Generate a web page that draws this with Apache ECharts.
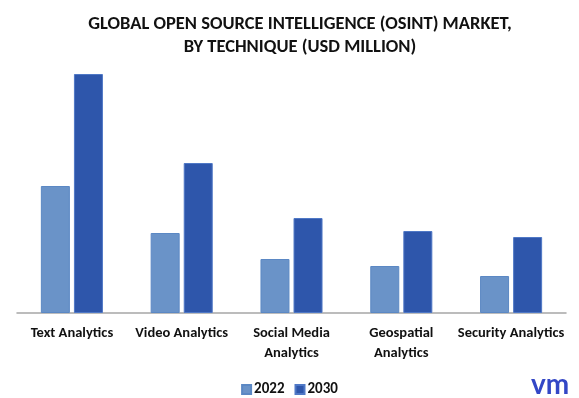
<!DOCTYPE html>
<html>
<head>
<meta charset="utf-8">
<script src="https://cdn.jsdelivr.net/npm/echarts@6/dist/echarts.min.js"></script>
<style>
  html, body { margin: 0; padding: 0; background: #fff; }
  #chart { width: 579px; height: 398px; }
</style>
</head>
<body>
<div id="chart"></div>
<script>
const categories = ['Text Analytics', 'Video Analytics', 'Social Media\nAnalytics', 'Geospatial\nAnalytics', 'Security Analytics']
const values2022 = [127, 80, 54, 47, 37]
const values2030 = [239, 150, 95, 82, 76]
const seriesNames = ['2022', '2030']

const fontFamily = 'Calibri, Carlito, Lato, sans-serif'
const textColor = '#111111'

const chart = echarts.init(document.getElementById('chart'))

chart.setOption({
  animation: false,
  color: ['#6a93c8', '#2e56ab'],
  title: {
    text: 'GLOBAL OPEN SOURCE INTELLIGENCE (OSINT) MARKET,\nBY TECHNIQUE (USD MILLION)',
    left: 295,
    textAlign: 'center',
    top: 8,
    textStyle: {
      fontFamily,
      fontSize: 18.5,
      fontWeight: 'bold',
      lineHeight: 23,
      color: textColor
    }
  },
  legend: {
    data: seriesNames,
    left: 'center',
    top: 377,
    itemWidth: 9,
    itemHeight: 9,
    itemGap: 10,
    icon: 'rect',
    textStyle: { fontFamily, fontSize: 15, fontWeight: 'bold', color: textColor, padding: [0, 0, 0, -2] }
  },
  grid: { left: 17, right: 13, top: 74, bottom: 85, containLabel: false },
  xAxis: {
    type: 'category',
    data: categories,
    axisLine: { lineStyle: { color: '#a6a6a6', width: 1.5 } },
    axisTick: { show: false },
    axisLabel: {
      interval: 0,
      margin: 10,
      fontFamily,
      fontSize: 14.5,
      fontWeight: 'bold',
      lineHeight: 20,
      color: textColor
    }
  },
  yAxis: {
    type: 'value',
    min: 0,
    max: 239,
    show: false,
    splitLine: { show: false }
  },
  series: [
    {
      name: seriesNames[0],
      type: 'bar',
      barWidth: 29,
      barGap: '14%',
      itemStyle: { borderColor: '#5b88c4', borderWidth: 1 },
      data: values2022
    },
    {
      name: seriesNames[1],
      type: 'bar',
      barWidth: 29,
      barGap: '14%',
      itemStyle: { borderColor: '#4f78c6', borderWidth: 1 },
      data: values2030
    }
  ],
  graphic: [
    {
      type: 'text',
      left: 531,
      top: 371,
      style: {
        text: 'vm',
        fontFamily: 'Lato, sans-serif',
        fontSize: 28,
        fontWeight: 'bold',
        fill: '#3347c6'
      }
    }
  ]
})
</script>
</body>
</html>
